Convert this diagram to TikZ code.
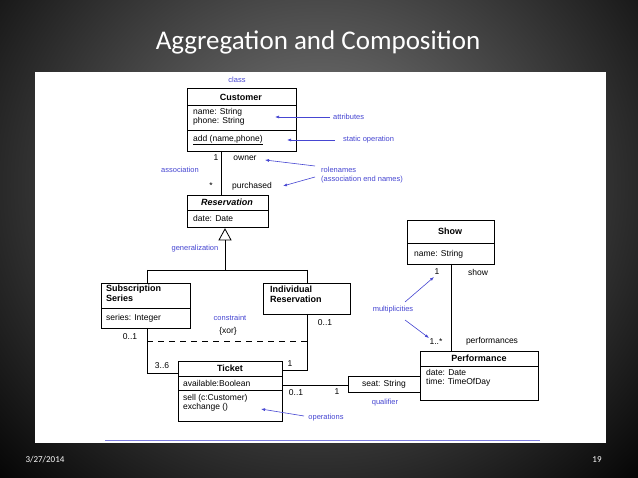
\documentclass[tikz,border=0pt]{standalone}
\usepackage{fontspec}
\setmainfont{Carlito}
\newfontfamily\diag{Liberation Sans}
\usetikzlibrary{arrows.meta}
\definecolor{lbl}{RGB}{70,70,210}
\begin{document}
\begin{tikzpicture}[x=1pt,y=-1pt,
 box/.style={draw,line width=0.8pt},
 ln/.style={line width=0.8pt},
 tx/.style={font=\diag\fontsize{8.5}{9.5}\selectfont,inner sep=0pt},
 bt/.style={font=\diag\bfseries\fontsize{9}{10}\selectfont,inner sep=0pt},
 bl/.style={font=\diag\fontsize{7.5}{8.5}\selectfont,text=lbl,inner sep=0pt},
 ar/.style={draw=lbl,line width=0.6pt,-{Latex[length=4pt,width=3pt]}}]
\useasboundingbox (0,0) rectangle (638,478);
\shade[inner color=black!50,outer color=black] (-150,-250) rectangle (788,620);
\fill[white] (35,72) rectangle (606,443);
\node[text=white,font=\fontsize{27}{30}\selectfont] (title) at (318,42) {Aggregation and Composition};
\node[text=white,font=\fontsize{9}{10}\selectfont,anchor=west] (date) at (22,460) {3/27/2014};
\node[text=white,font=\fontsize{9}{10}\selectfont] (pg) at (597,460) {19};
\draw[draw=lbl!70,line width=1pt] (105,441) -- (540,441);
% Customer
\draw[box] (187,88) rectangle (296,151); \draw[ln] (187,105)--(296,105) (187,130)--(296,130);
\node[bt] (cust) at (241,97) {Customer};
\node[tx,anchor=north west,align=left] (cattr) at (193,108) {name: String\\phone: String};
\node[tx,anchor=west] (cop) at (193,140) {\underline{add (name,phone)}};
\coordinate (cb) at (221,151);
% Reservation
\draw[box] (187,195) rectangle (268,227); \draw[ln] (187,210)--(268,210);
\node[bt,font=\diag\bfseries\itshape\fontsize{9}{10}\selectfont] (res) at (227,202) {Reservation};
\node[tx,anchor=west] (rd) at (193,218) {date: Date};
\coordinate (rt) at (221,195);
\draw[ln] (cb)--(rt);
% generalization
\coordinate (tri) at (225,229);
\draw[ln] (225,240)--(225,270) (147,270)--(307,270) (147,270)--(147,283) (307,270)--(307,283);
\draw[ln,fill=white] (tri)--(219,240)--(231,240)--cycle;
% Subscription series
\draw[box] (101,283) rectangle (190,328); \draw[ln] (101,308)--(190,308);
\node[bt,anchor=north west,align=left,font=\diag\bfseries\fontsize{9}{9.5}\selectfont] (ss) at (106,285) {Subscription\\Series};
\node[tx,anchor=west] (ssa) at (106,318) {series: Integer};
% Individual Reservation
\draw[box] (263,283) rectangle (350,314);
\node[bt,anchor=north west,align=left,font=\diag\bfseries\fontsize{9}{9.5}\selectfont] (ir) at (270,286) {Individual\\Reservation};
% Ticket
\draw[box] (178,361) rectangle (282,421); \draw[ln] (178,376)--(282,376) (178,390)--(282,390);
\node[bt] (tk) at (230,368) {Ticket};
\node[tx,anchor=west] (tka) at (183,383) {available:Boolean};
\node[tx,anchor=north west,align=left] (tko) at (183,394) {sell (c:Customer)\\exchange ()};
\draw[ln] (147,328)--(147,373)--(178,373);
\draw[ln] (307,314)--(307,370)--(282,370);
\draw[ln,dash pattern=on 6pt off 5pt] (147,341)--(307,341);
% qualifier & Performance
\draw[box] (348,376) rectangle (420,392);
\node[tx] (q) at (384,384) {seat: String};
\draw[ln] (282,385)--(348,385);
\draw[box] (420,351) rectangle (538,400); \draw[ln] (420,366)--(538,366);
\node[bt] (perf) at (479,358) {Performance};
\node[tx,anchor=north west,align=left] (pa) at (426,369) {date: Date\\time: TimeOfDay};
% Show
\draw[box] (407,220) rectangle (494,264); \draw[ln] (407,243)--(494,243);
\node[bt] (show) at (450,231) {Show};
\node[tx,anchor=west] (sa) at (414,254) {name: String};
\draw[ln] (451,264)--(451,351);
% multiplicity / role text
\node[tx] (m1) at (216,158) {1};
\node[tx] (own) at (245,158) {owner};
\node[tx] (m2) at (211,186) {*};
\node[tx] (pur) at (252,186) {purchased};
\node[tx] (m3) at (130,337) {0..1};
\node[tx] (m4) at (162,366) {3..6};
\node[tx] (m5) at (290,364) {1};
\node[tx] (m6) at (325,323) {0..1};
\node[tx] (m7) at (296,393) {0..1};
\node[tx] (m8) at (337,392) {1};
\node[tx] (m9) at (437,272) {1};
\node[tx] (shw) at (478,272) {show};
\node[tx] (m10) at (436,342) {1..*};
\node[tx] (prf) at (492,341) {performances};
\node[tx] (xor) at (228,331) {\{xor\}};
% blue labels
\node[bl] (lclass) at (237,80) {class};
\node[bl,anchor=west] (lattr) at (333,117) {attributes};
\node[bl,anchor=west] (lstat) at (343,140) {static operation};
\node[bl] (lassoc) at (180,170) {association};
\node[bl,anchor=west,align=left] (lrole) at (321,175) {rolenames\\(association end names)};
\node[bl] (lgen) at (195,249) {generalization};
\node[bl] (lcon) at (230,318) {constraint};
\node[bl] (lmul) at (393,310) {multiplicities};
\node[bl] (lqual) at (385,403) {qualifier};
\node[bl] (lops) at (326,418) {operations};
\draw[ar] (330,117)--(275,117);
\draw[ar] (335,140)--(287,140);
\draw[ar] (315,166)--(265,160);
\draw[ar] (315,177)--(283,186);
\draw[ar] (405,302)--(434,277);
\draw[ar] (405,320)--(429,338);
\draw[ar] (304,416)--(261,409);
\end{tikzpicture}
\end{document}
